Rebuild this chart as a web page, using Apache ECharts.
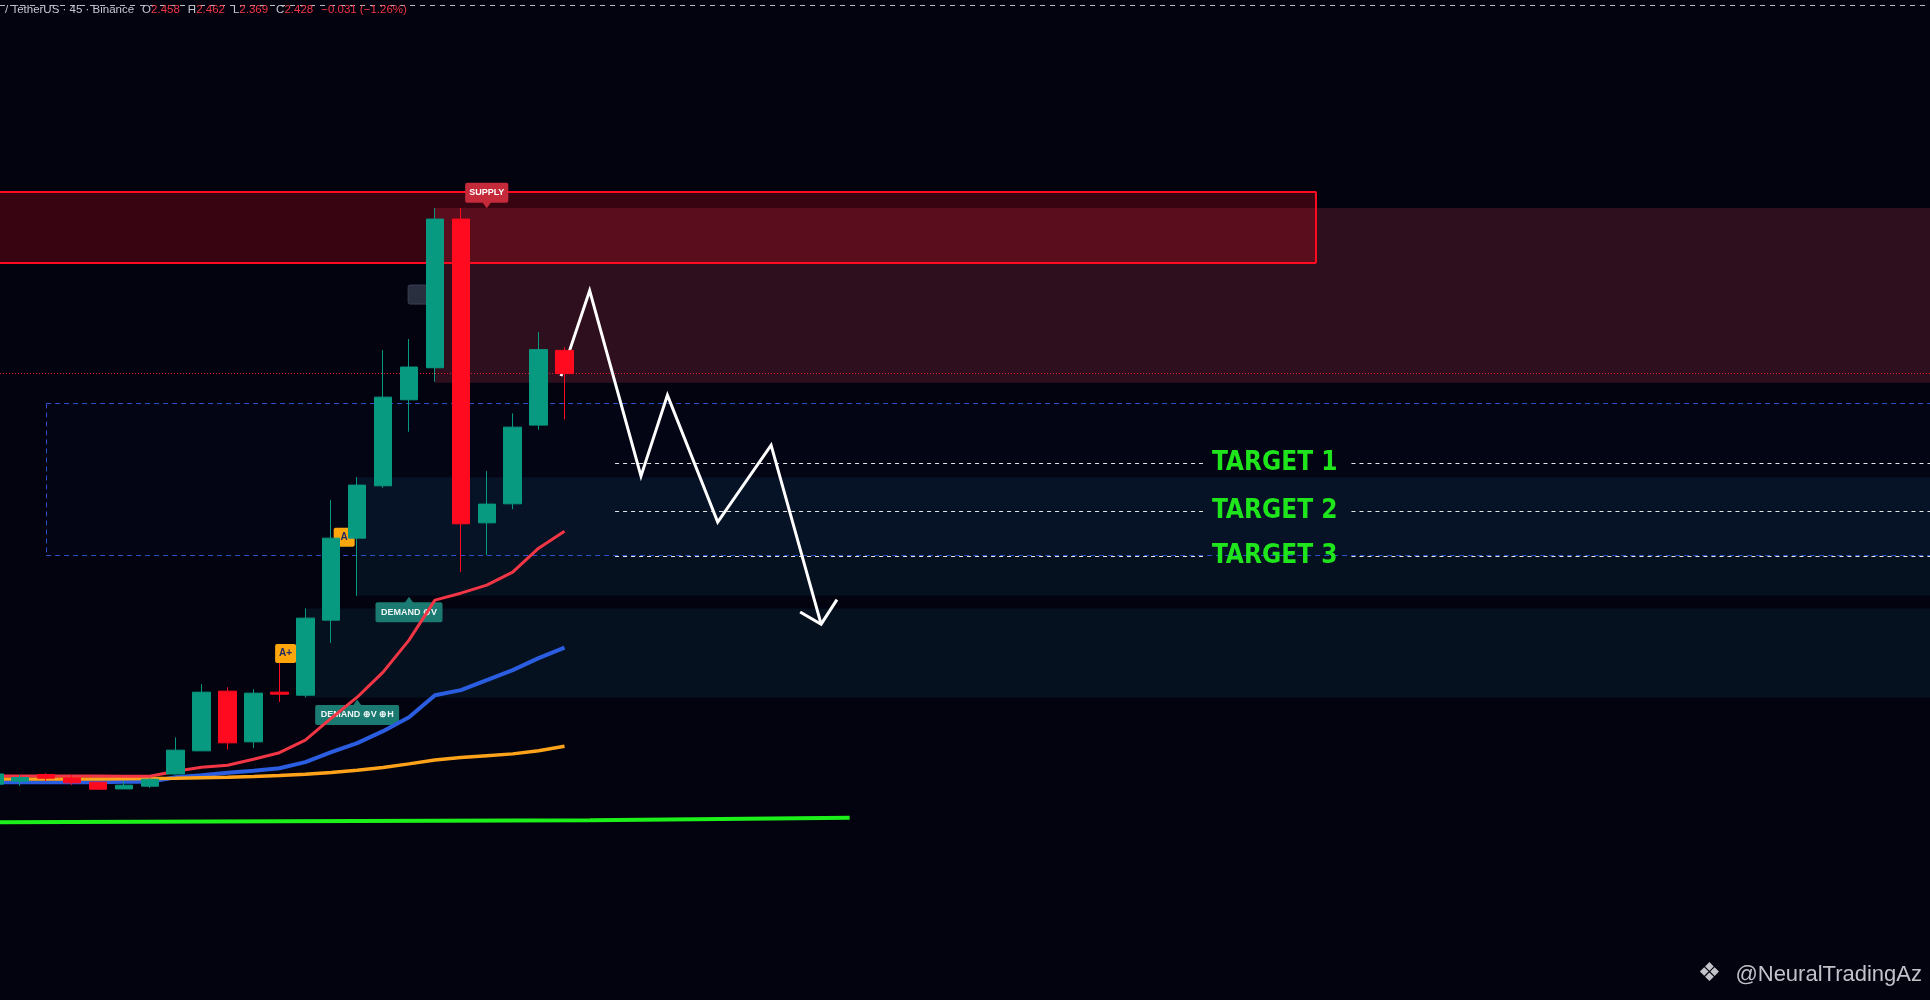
<!DOCTYPE html>
<html>
<head>
<meta charset="utf-8">
<script src="https://cdn.jsdelivr.net/npm/echarts@6/dist/echarts.min.js"></script>
<style>
html,body{margin:0;padding:0;background:#03030f;overflow:hidden;}
#chart{width:1930px;height:1000px;}
</style>
</head>
<body>
<div id="chart"></div>
<script>
// ---------- DATA ----------
const candleIndex = [-1,0,1,2,3,4,5,6,7,8,9,10,11,12,13,14,15,16,17,18,19,20,21];
const openPrices  = [1.8984,1.9023,1.9109,1.9065,1.9010,1.8923,1.8958,1.9116,1.9414,2.0184,1.9530,2.0171,2.0132,2.1100,2.2158,2.2833,2.3943,2.4356,2.6274,2.2355,2.2601,2.3616,2.458];
const closePrices = [1.9116,1.9070,1.9061,1.9001,1.8919,1.8971,1.9048,1.9423,2.0171,1.9517,2.0158,2.0145,2.1126,2.2158,2.2842,2.3977,2.4365,2.6274,2.2343,2.2597,2.3590,2.459,2.428];
const lowPrices   = [1.8970,1.8962,1.9023,1.8975,1.8916,1.8923,1.8936,1.9110,1.9414,1.9432,1.9452,2.0046,2.0103,2.0807,2.1414,2.2807,2.3530,2.4175,2.1723,2.1939,2.2532,2.3556,2.369];
const highPrices  = [1.9130,1.9100,1.9126,1.9104,1.9015,1.9023,1.9061,1.9587,2.0274,2.0235,2.0210,2.0549,2.1251,2.2648,2.2945,2.4584,2.4726,2.6416,2.6416,2.3023,2.3767,2.4816,2.462];

const emaFast = [1.9091,1.9091,1.9091,1.9091,1.9091,1.9087,1.9087,1.9152,1.9203,1.9229,1.9306,1.9390,1.9552,1.9835,2.0106,2.0429,2.0842,2.1358,2.1448,2.1552,2.1719,2.2029,2.2248];
const emaMid  = [1.9010,1.9010,1.9010,1.9010,1.9010,1.9016,1.9016,1.9074,1.9100,1.9132,1.9158,1.9190,1.9268,1.9397,1.9513,1.9668,1.9848,2.0132,2.0197,2.0326,2.0455,2.0610,2.0745];
const emaSlow = [1.9052,1.9052,1.9052,1.9052,1.9052,1.9055,1.9057,1.9061,1.9068,1.9074,1.9083,1.9096,1.9113,1.9135,1.9165,1.9199,1.9246,1.9297,1.9328,1.9352,1.9375,1.9416,1.9474];
const emaLongX = [-1, 10, 22, 32];
const emaLongY = [1.8494, 1.8506, 1.8519, 1.8552];

const projX = [20.865, 21.97, 23.95, 24.97, 26.91, 28.97, 30.90];
const projY = [2.4248, 2.5352, 2.2958, 2.4003, 2.2366, 2.3358, 2.1048];
const arrowX = [30.09, 30.90, 31.51];
const arrowY = [2.1206, 2.1048, 2.1365];

const targetNames  = ['TARGET 1', 'TARGET 2', 'TARGET 3'];
const targetPrices = [2.3122, 2.2503, 2.1926];
const targetLineFrom = 22.95, targetGapFrom = 45.63, targetGapTo = 51.36, targetLabelX = 48.40;

// zones: [fromIndex, toIndex, topPrice, bottomPrice]
const supplyZone  = [-1.5, 50, 2.6627, 2.5710];
const orderBlock  = [16, 75, 2.6416, 2.4162];
const demandZoneA = [13, 75, 2.2945, 2.1414];
const demandZoneB = [11, 75, 2.1251, 2.0103];
const rangeBox    = [1, 75, 2.3896, 2.1939];
const topPriceLine = 2.9035;

const badgeTexts = ['SUPPLY', 'DEMAND ⊕V', 'DEMAND ⊕V ⊕H', 'A+', 'A', ''];
const badgeKinds = ['supply', 'demand', 'demand', 'grade', 'grade', 'ghost'];
const badgeX = [18, 15, 13, 10.24, 12.5, 15.43];
const badgeY = [2.6412, 2.1401, 2.0077, 2.067, 2.2171, 2.530];

const X_MIN = -0.779, X_MAX = 73.68, Y_MIN = 1.62, Y_MAX = 2.91;

// ---------- BUILD ----------
const candleData = candleIndex.map((x, k) => [x, openPrices[k], closePrices[k], lowPrices[k], highPrices[k]]);
const pairs = (xs, ys) => xs.map((x, k) => [x, ys[k]]);
const clampX = x => Math.max(X_MIN, Math.min(X_MAX, x));

const last = closePrices.length - 1;
const lastClose = closePrices[last];
const chg = closePrices[last] - closePrices[last - 1];
const pct = chg / closePrices[last - 1] * 100;
const sgn = v => (v < 0 ? '−' : '+');
const headerText =
  '{g|/ TetherUS · 45 · Binance}{sp| }' +
  '{g|O}{r|' + openPrices[last].toFixed(3) + '}{sp| }' +
  '{g|H}{r|' + highPrices[last].toFixed(3) + '}{sp| }' +
  '{g|L}{r|' + lowPrices[last].toFixed(3) + '}{sp| }' +
  '{g|C}{r|' + closePrices[last].toFixed(3) + '}{sp| }' +
  '{r|' + sgn(chg) + Math.abs(chg).toFixed(3) + ' (' + sgn(pct) + Math.abs(pct).toFixed(2) + '%)}';

const areaItem = (z, style) => [{coord: [z[0], z[2]], itemStyle: style}, {coord: [z[1], z[3]]}];
const hLine = (x1, x2, y, style) => [{coord: [clampX(x1), y], lineStyle: style}, {coord: [clampX(x2), y]}];
const vLine = (x, y1, y2, style) => [{coord: [x, y1], lineStyle: style}, {coord: [x, y2]}];

const targetDash = {color: '#e4e4e4', width: 1, type: [4, 4], opacity: 1};
const boxDash = {color: '#2850c8', width: 1, type: [5, 4], opacity: 1};
const supplyEdge = {color: '#ff0a1e', width: 2, type: 'solid', opacity: 1};
const markLines = [
  hLine(X_MIN, X_MAX, topPriceLine, {color: '#b8bac2', width: 1, type: [5, 5], opacity: 1}),
  hLine(X_MIN, X_MAX, lastClose, {color: '#e31d2e', width: 1, type: [1, 2], opacity: 1}),
  // range box edges (right edge runs off the chart)
  hLine(rangeBox[0], rangeBox[1], rangeBox[2], boxDash),
  hLine(rangeBox[0], rangeBox[1], rangeBox[3], boxDash),
  vLine(rangeBox[0], rangeBox[2], rangeBox[3], boxDash),
  // supply box edges (left edge runs off the chart)
  hLine(supplyZone[0], supplyZone[1], supplyZone[2], supplyEdge),
  hLine(supplyZone[0], supplyZone[1], supplyZone[3], supplyEdge),
  vLine(supplyZone[1], supplyZone[2], supplyZone[3], supplyEdge)
];
targetPrices.forEach(p => {
  markLines.push(hLine(targetLineFrom, targetGapFrom, p, targetDash));
  markLines.push(hLine(targetGapTo, X_MAX, p, targetDash));
});

const BADGE_LOOK = {
  supply: {bg: '#c42a3a', fg: '#ffffff', pointer: 'down'},
  demand: {bg: '#1b7a72', fg: '#eef6f5', pointer: 'up'},
  grade:  {bg: '#ffa60d', fg: '#1f2a66', pointer: 'none'},
  ghost:  {bg: '#2a2f40', fg: '#2a2f40', pointer: 'none'}
};
function renderBadge(params, api) {
  const i = params.dataIndex;
  const look = BADGE_LOOK[badgeKinds[i]];
  const p = api.coord([api.value(0), api.value(1)]);
  const text = badgeTexts[i];
  const font = 'bold 9px "Liberation Sans", Arial, sans-serif';
  const ph = 6, pw = 5;
  const children = [];
  if (look.pointer === 'down') {
    children.push({type: 'polygon', shape: {points: [[p[0] - pw, p[1] - ph - 1], [p[0] + pw, p[1] - ph - 1], [p[0], p[1]]]}, style: {fill: look.bg}});
    children.push({type: 'text', x: p[0], y: p[1] - ph + 0.5, style: {text: text, fill: look.fg, font: font, lineHeight: 10, align: 'center', verticalAlign: 'bottom', backgroundColor: look.bg, padding: [5, 4, 5, 4], borderRadius: 2}});
  } else if (look.pointer === 'up') {
    children.push({type: 'polygon', shape: {points: [[p[0] - pw, p[1] + ph + 1], [p[0] + pw, p[1] + ph + 1], [p[0], p[1]]]}, style: {fill: look.bg}});
    children.push({type: 'text', x: p[0], y: p[1] + ph - 0.5, style: {text: text, fill: look.fg, font: font, lineHeight: 10, align: 'center', verticalAlign: 'top', backgroundColor: look.bg, padding: [5, 5.5, 5, 5.5], borderRadius: 2}});
  } else {
    const w = look === BADGE_LOOK.ghost ? 24 : 21, h = 19;
    children.push({type: 'rect', shape: {x: p[0] - w / 2, y: p[1] - h / 2, width: w, height: h, r: 2}, style: {fill: look.bg, stroke: look === BADGE_LOOK.ghost ? '#3a4055' : null}});
    if (text) children.push({type: 'text', x: p[0], y: p[1], style: {text: text, fill: look.fg, font: 'bold 10px "Liberation Sans", Arial, sans-serif', align: 'center', verticalAlign: 'middle'}});
  }
  return {type: 'group', children: children};
}
function renderTarget(params, api) {
  const p = api.coord([api.value(0), api.value(1)]);
  return {type: 'text', x: p[0], y: p[1], style: {
    text: targetNames[params.dataIndex], fill: '#1fe51c',
    font: 'bold 26px "Liberation Sans Narrow", "DejaVu Sans Condensed", sans-serif',
    align: 'center', verticalAlign: 'middle'}};
}

const chart = echarts.init(document.getElementById('chart'), null, {renderer: 'canvas', width: 1930, height: 1000});
chart.setOption({
  backgroundColor: '#03030f',
  animation: false,
  title: {
    left: 5, top: 3, padding: 0,
    text: headerText,
    textStyle: {
      fontSize: 11.5, lineHeight: 14, fontFamily: '"Liberation Sans", Arial, sans-serif', fontWeight: 'normal',
      rich: {
        g: {color: '#c3c6cf', fontSize: 11.5, fontFamily: '"Liberation Sans", Arial, sans-serif'},
        r: {color: '#f23645', fontSize: 11.5, fontFamily: '"Liberation Sans", Arial, sans-serif'},
        sp: {width: 8, fontSize: 11.5}
      }
    }
  },
  grid: {left: 0, right: 0, top: 0, bottom: 0},
  xAxis: {type: 'value', min: X_MIN, max: X_MAX, show: false},
  yAxis: {type: 'value', min: Y_MIN, max: Y_MAX, show: false, scale: true},
  graphic: [
    {type: 'text', right: 8, bottom: 14, z: 100, style: {text: '@NeuralTradingAz', fill: 'rgba(215,215,222,0.9)', font: '22px "Liberation Sans", Arial, sans-serif'}},
    {type: 'text', right: 209, bottom: 13, z: 100, style: {text: '❖', fill: 'rgba(215,215,222,0.9)', font: '26px "DejaVu Sans", sans-serif'}}
  ],
  series: [
    {
      name: 'EMA long', type: 'line', z: 4, data: pairs(emaLongX, emaLongY), showSymbol: false, symbol: 'none', silent: true,
      lineStyle: {color: '#1cf01a', width: 4},
      markArea: {
        silent: true, z: 1, label: {show: false},
        data: [
          areaItem(demandZoneB, {color: '#061120'}),
          areaItem(demandZoneA, {color: '#061120'}),
          areaItem(rangeBox, {color: 'rgba(41,98,255,0.025)'}),
          areaItem(orderBlock, {color: 'rgba(178,52,77,0.245)'}),
          areaItem(supplyZone, {color: 'rgba(255,10,30,0.21)'})
        ]
      },
      markLine: {silent: true, z: 2, symbol: ['none', 'none'], label: {show: false}, data: markLines}
    },
    {name: 'EMA mid', type: 'line', z: 4, data: pairs(candleIndex, emaMid), showSymbol: false, symbol: 'none', silent: true, lineStyle: {color: '#2a5ddf', width: 4}},
    {name: 'EMA slow', type: 'line', z: 4, data: pairs(candleIndex, emaSlow), showSymbol: false, symbol: 'none', silent: true, lineStyle: {color: '#ffa31a', width: 3.5}},
    {name: 'EMA fast', type: 'line', z: 4, data: pairs(candleIndex, emaFast), showSymbol: false, symbol: 'none', silent: true, lineStyle: {color: '#f23645', width: 3}},
    {name: 'Projection', type: 'line', z: 5, data: pairs(projX, projY), showSymbol: false, symbol: 'none', silent: true, lineStyle: {color: '#ffffff', width: 3, join: 'miter', miterLimit: 6}},
    {name: 'Arrow', type: 'line', z: 5, data: pairs(arrowX, arrowY), showSymbol: false, symbol: 'none', silent: true, lineStyle: {color: '#ffffff', width: 3, join: 'miter', miterLimit: 6}},
    {name: 'Badges', type: 'custom', z: 3, silent: true, data: pairs(badgeX, badgeY), renderItem: renderBadge},
    {name: 'Targets', type: 'custom', z: 5, silent: true, data: targetPrices.map(p => [targetLabelX, p]), renderItem: renderTarget},
    {
      name: 'Price', type: 'candlestick', z: 6, silent: true, barWidth: 18, data: candleData,
      itemStyle: {color: '#089981', color0: '#ff0a1e', borderColor: '#089981', borderColor0: '#ff0a1e', borderWidth: 1}
    }
  ]
});
</script>
</body>
</html>
